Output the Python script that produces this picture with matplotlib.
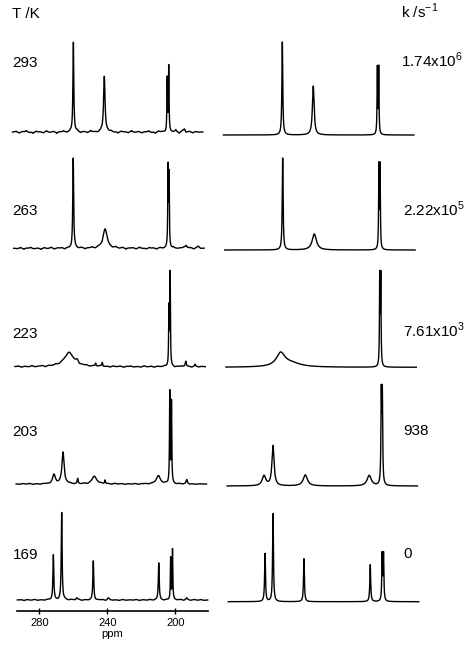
import numpy as np
import matplotlib
matplotlib.use("Agg")
import matplotlib.pyplot as plt

plt.rcParams["font.family"] = ["Liberation Sans", "DejaVu Sans"]

# row labels
temps = ["293", "263", "223", "203", "169"]
rates = [r"1.74x10$^\mathregular{6}$", r"2.22x10$^\mathregular{5}$",
         r"7.61x10$^\mathregular{3}$", "938", "0"]

# peaks: (ppm, height, fwhm ppm) -- experimental (left)
exp_293 = [(257.2, 90, 0.6), (239.0, 57, 1.0), (202.0, 53, 0.4), (201.1, 64, 0.4), (191.9, 3, 1.0)]
exp_263 = [(258.0, 90, 0.6), (239.3, 19, 3.0), (202.2, 79, 0.4), (201.6, 71, 0.4),
           (191.5, 3, 1.5), (184.5, 2, 1.5)]
exp_223 = [(261.2, 14, 7.0), (256.3, 3, 1.5), (245.5, 3, 0.6), (241.6, 4, 0.6),
           (202.4, 57, 0.4), (201.7, 92, 0.4), (192.5, 5.5, 0.8), (187.0, 2, 0.8)]
exp_203 = [(270.7, 9, 2.0), (265.4, 32, 1.5), (256.8, 5, 0.6), (247.0, 8, 3.0), (240.7, 4, 0.6),
           (209.4, 8, 3.0), (202.6, 91, 0.4), (201.6, 81, 0.4), (192.6, 4, 0.8)]
exp_169 = [(271.8, 45, 0.6), (266.9, 87, 0.6), (258.0, 2, 1.0), (248.3, 39, 0.6), (239.5, 2, 1.0),
           (209.8, 37, 0.6), (202.8, 42, 0.4), (201.7, 50, 0.4), (193.4, 2, 1.0)]

# simulated (right)
sim_293 = [(258.4, 93, 0.6), (240.2, 49, 1.2), (202.5, 66, 0.4), (201.7, 66, 0.4)]
sim_263 = [(258.9, 92, 0.6), (240.3, 16, 3.0), (202.3, 82, 0.4), (201.6, 82, 0.4)]
sim_223 = [(260.8, 13, 6.0), (255.0, 4, 14.0), (202.5, 88, 0.4), (201.9, 88, 0.4)]
sim_203 = [(271.3, 10, 2.5), (266.0, 40, 1.5), (247.0, 11, 3.0), (209.4, 10.5, 3.0),
           (202.3, 88, 0.5), (201.7, 88, 0.5)]
sim_169 = [(271.4, 48, 0.6), (266.7, 88, 0.6), (248.5, 43, 0.6), (209.5, 37, 0.6),
           (202.5, 46, 0.5), (201.7, 46, 0.5)]

noise_ppm = [291, 289, 287, 285, 283, 281, 279, 277, 275, 273, 271, 269, 267, 265, 263, 261,
             259, 257, 255, 253, 251, 249, 247, 245, 243, 241, 239, 237, 235, 233, 231, 229,
             227, 225, 223, 221, 219, 217, 215, 213, 211, 209, 207, 205, 203, 201, 199, 197,
             195, 193, 191, 189, 187, 185, 183]
noise_293 = [0.8, -1.2, 0.5, 1.5, -0.6, -1.4, 0.9, 0.3, -1.0, 1.2, -0.4, 0.7, -1.5, 0.2, 1.1, -0.8,
             0.6, -0.3, 1.4, -1.1, 0.4, -0.9, 1.3, 0.1, -0.7, 0.9, -1.3, 0.5, 1.0, -0.5, -1.2, 0.8,
             0.2, -0.9, 1.5, -0.4, 0.6, -1.1, 0.3, 1.2, -0.6, -1.4, 0.9, 0.4, -0.8, 1.1, -0.2, 2.2,
             -1.5, 1.6, -0.9, 0.7, -1.0, 0.5, -0.3]
noise_263 = [-0.5, 0.9, -1.1, 0.4, 1.0, -0.7, 0.2, -1.2, 0.8, -0.3, 1.1, -0.9, 0.5, 0.6, -1.0, 0.3,
             -0.6, 1.2, -0.4, 0.7, -1.0, 0.2, 0.9, -0.8, 0.4, -1.1, 0.6, 0.1, -0.7, 1.0, -0.5, 0.8,
             -1.2, 0.3, 0.6, -0.9, 1.1, -0.2, -0.8, 0.7, 0.4, -1.0, 0.9, -0.3, 0.5, -0.6, 1.0, -0.4,
             0.2, 0.8, -0.7, 0.6, -0.9, 0.4, -0.5]
noise_223 = [0.6, -0.8, 0.3, -0.4, 0.9, -0.6, 0.2, 0.7, -0.9, 0.4, -0.2, 0.8, -0.5, 0.3, -0.7, 0.6,
             -0.3, 0.5, -0.8, 0.2, 0.7, -0.6, 0.4, -0.3, 0.8, -0.5, 0.1, -0.7, 0.6, -0.2, 0.5, -0.8,
             0.3, 0.7, -0.4, 0.2, -0.6, 0.9, -0.3, 0.4, -0.7, 0.5, -0.2, 0.6, -0.5, 0.3, -0.8, 0.4,
             0.7, -0.3, 0.2, -0.6, 0.5, -0.4, 0.3]
noise_203 = [-0.4, 0.5, -0.2, 0.6, -0.5, 0.3, -0.6, 0.4, 0.2, -0.5, 0.6, -0.3, 0.4, -0.6, 0.2, 0.5,
             -0.4, 0.3, -0.2, 0.6, -0.5, 0.4, -0.3, 0.2, 0.5, -0.6, 0.3, -0.4, 0.6, -0.2, 0.4, -0.5,
             0.2, -0.3, 0.5, -0.6, 0.3, 0.4, -0.5, 0.2, -0.4, 0.6, -0.3, 0.5, -0.2, 0.3, -0.5, 0.4,
             -0.3, 0.6, -0.4, 0.2, -0.5, 0.3, -0.2]
noise_169 = [0.4, -0.6, 0.5, -0.3, 0.6, -0.5, 0.2, -0.4, 0.7, -0.3, 0.4, -0.6, 0.3, 0.5, -0.4, 0.6,
             -0.2, 0.5, -0.6, 0.3, -0.4, 0.6, -0.5, 0.2, 0.4, -0.6, 0.5, -0.3, 0.2, -0.5, 0.6, -0.4,
             0.3, -0.2, 0.5, -0.6, 0.4, -0.3, 0.6, -0.5, 0.2, 0.4, -0.6, 0.3, -0.4, 0.5, -0.2, 0.6,
             -0.5, 0.3, -0.4, 0.6, -0.3, 0.5, -0.4]

exp_rows = [exp_293, exp_263, exp_223, exp_203, exp_169]
sim_rows = [sim_293, sim_263, sim_223, sim_203, sim_169]
noise_rows = [noise_293, noise_263, noise_223, noise_203, noise_169]

W, H = 474, 647
fig = plt.figure(figsize=(W / 100, H / 100), dpi=100)

x = np.linspace(293, 181, 6000)


def lorentz(x, peaks):
    y = np.zeros_like(x)
    for p, h, w in peaks:
        y += h / (1 + ((x - p) / (w / 2)) ** 2)
    return y


# layout in pixels (scan is slightly skewed, so rows shift a bit)
base_left = [132, 248.3, 366.7, 484, 600]
base_right = [135, 250, 367.3, 486, 601.7]
ax_w = 190.4
for i in range(5):
    x0 = 12.5 + 1.2 * i
    for col in range(2):
        base = base_left[i] if col == 0 else base_right[i]
        left = x0 + 211 * col
        ax = fig.add_axes([left / W, (H - base - 11) / H, ax_w / W, 111 / H])
        ax.set_xlim(293, 181)
        ax.set_ylim(-11, 100)
        if col == 0:
            ripple = list(zip(noise_ppm, noise_rows[i], [0.9] * len(noise_ppm)))
            y = lorentz(x, exp_rows[i] + ripple)
        else:
            y = lorentz(x, sim_rows[i])
        ax.plot(x, y, color="black", lw=1.0, clip_on=False)
        ax.patch.set_visible(False)
        for s in ["top", "left", "right"]:
            ax.spines[s].set_visible(False)
        ax.set_yticks([])
        if i == 4 and col == 0:
            ax.spines["bottom"].set_linewidth(1.2)
            ax.set_xticks([280, 240, 200])
            ax.tick_params(axis="x", direction="inout", length=5, width=1.0,
                           labelsize=8, pad=2.5)
            ax.set_xlabel("ppm", fontsize=8, labelpad=1)
        else:
            ax.spines["bottom"].set_visible(False)
            ax.set_xticks([])

# texts
fs = 11
fig.text(12.3 / W, 1 - 18.3 / H, "T /K", fontsize=fs, va="baseline")
fig.text(400.7 / W, 1 - 18.3 / H, r"k /s$^\mathregular{-1}$", fontsize=fs, va="baseline")
temp_base = [66.7, 215, 337.7, 435.7, 559]
rate_base = [66.7, 215.7, 337.3, 435, 558.3]
rate_x = [400.7, 403, 403, 403, 403]
for i in range(5):
    fig.text(12.7 / W, 1 - temp_base[i] / H, temps[i], fontsize=fs, va="baseline")
    fig.text(rate_x[i] / W, 1 - rate_base[i] / H, rates[i], fontsize=fs, va="baseline")

fig.savefig("out.png", dpi=100)
